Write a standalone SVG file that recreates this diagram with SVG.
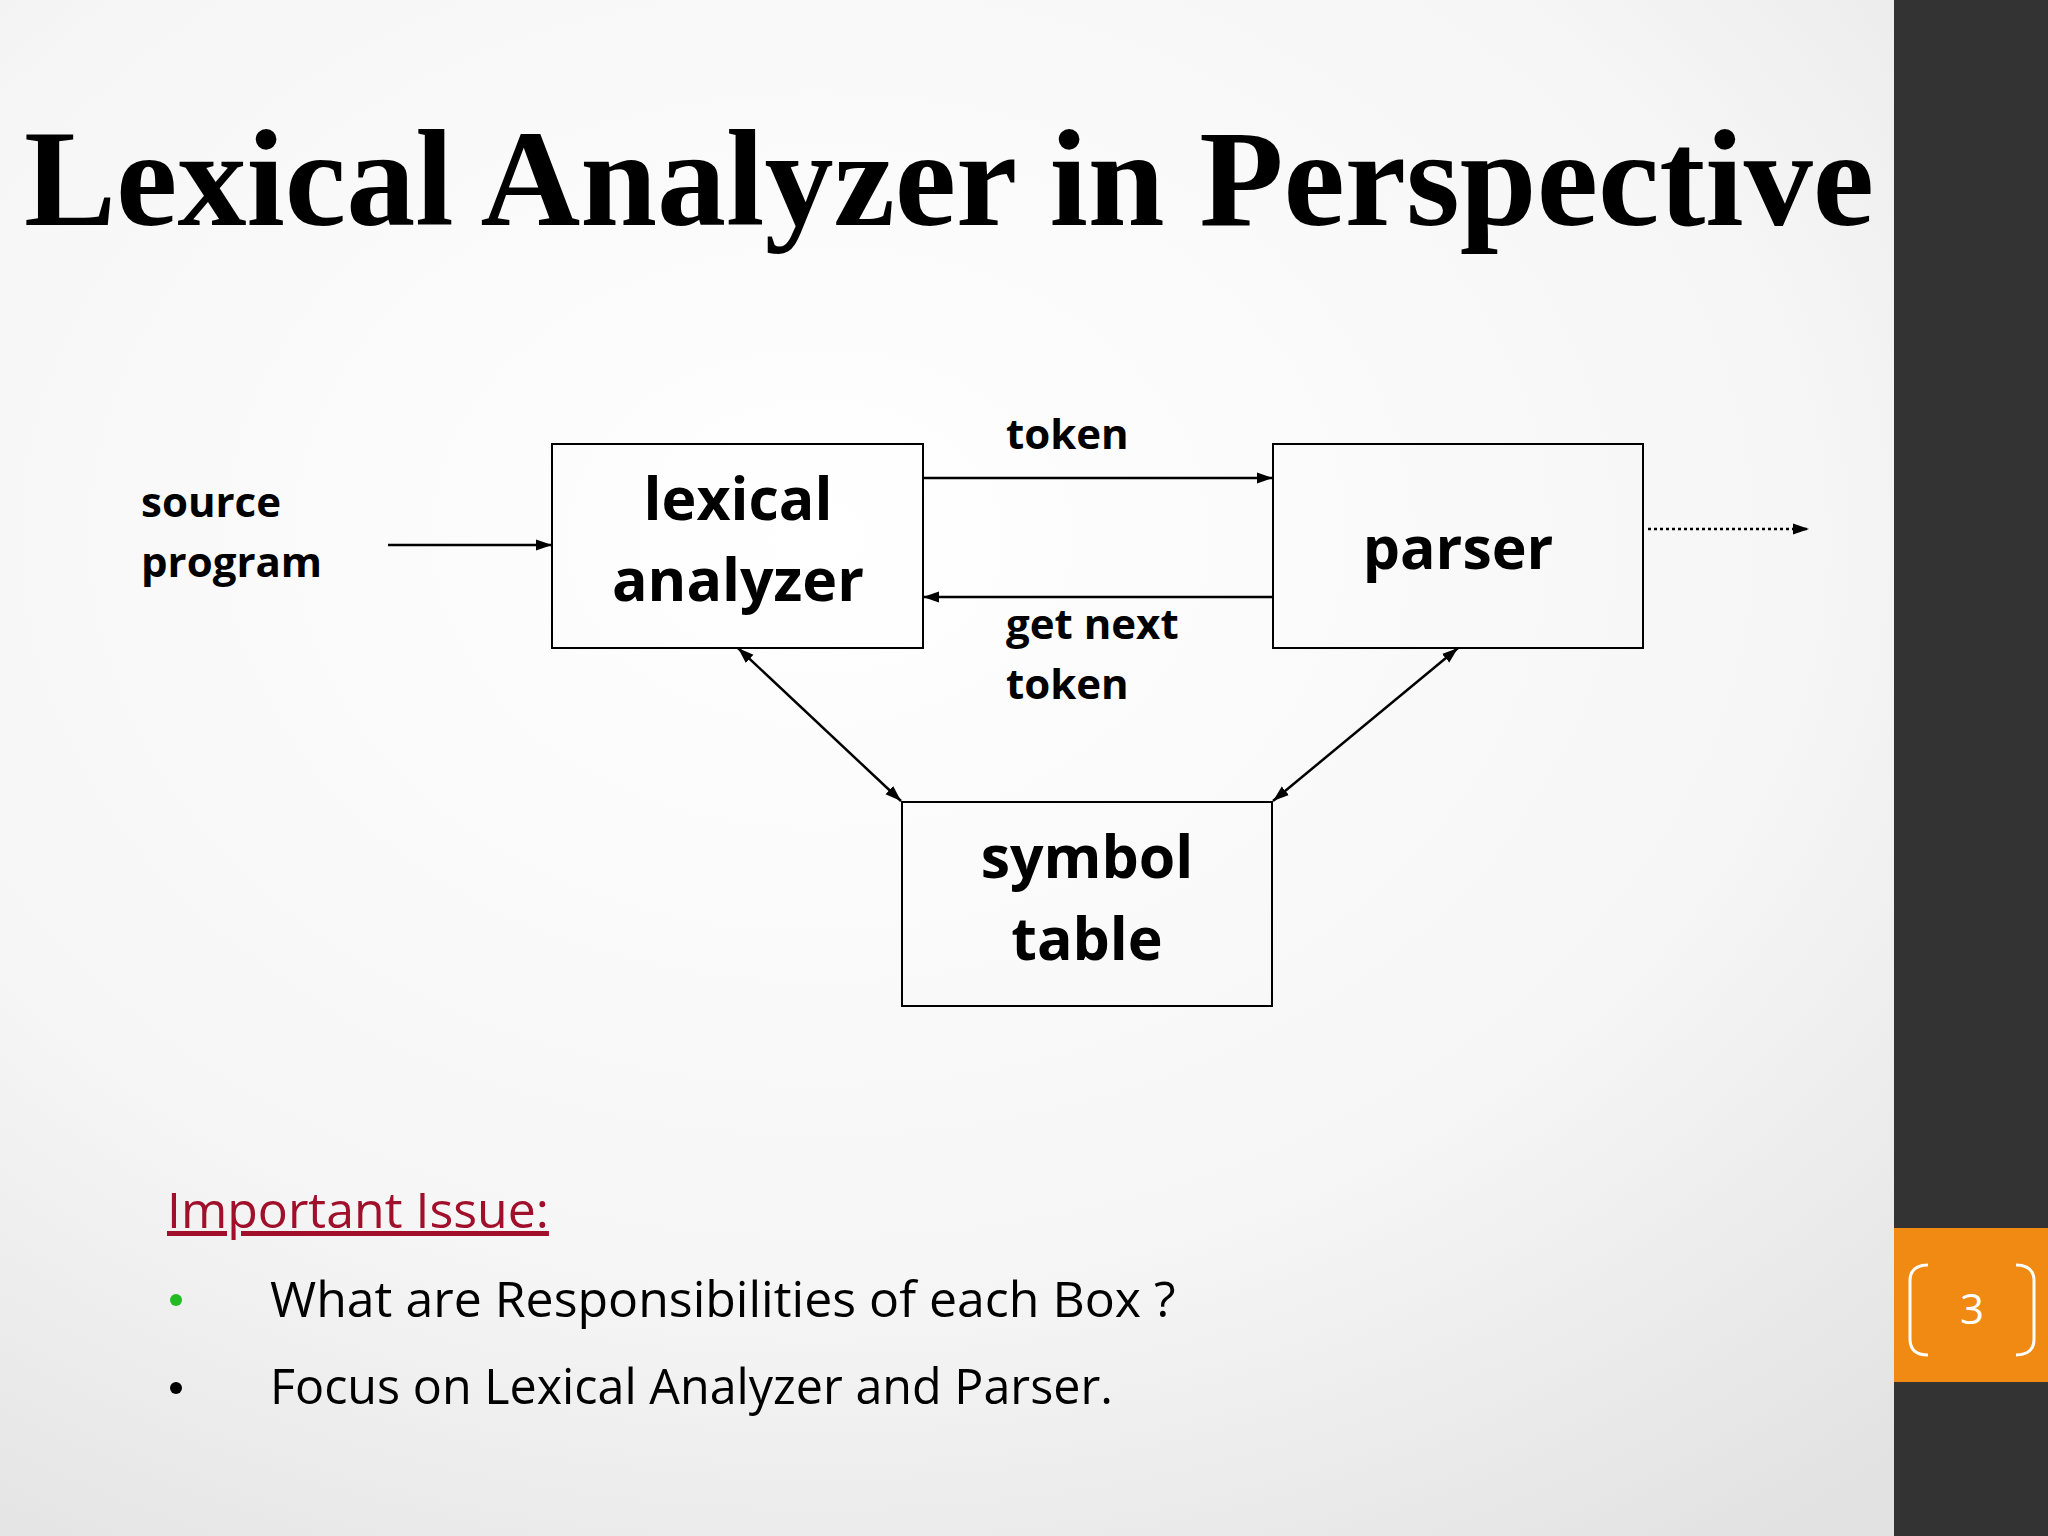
<svg xmlns="http://www.w3.org/2000/svg" width="2048" height="1536" viewBox="0 0 2048 1536">
<defs>
<radialGradient id="bg" cx="0.4" cy="0.35" r="0.8">
<stop offset="0" stop-color="#ffffff"/><stop offset="0.6" stop-color="#f6f6f6"/><stop offset="1" stop-color="#e2e2e2"/>
</radialGradient>
<marker id="a2" viewBox="0 0 10 10" refX="10" refY="5" markerWidth="16" markerHeight="16" orient="auto-start-reverse" markerUnits="userSpaceOnUse">
<path d="M0,1.5 L10,5 L0,8.5 z" fill="#000"/></marker>
</defs>
<style>
.box{fill:none;stroke:#000;stroke-width:2}
.lbl{font-family:"Open Sans","Liberation Sans",sans-serif;font-weight:bold;fill:#000}
.big{font-size:59px}
.sm{font-size:42px}
.ln{stroke:#000;stroke-width:2.5;fill:none}
.body{font-family:"Open Sans","Liberation Sans",sans-serif;font-size:50px;fill:#000}
</style>
<rect width="2048" height="1536" fill="url(#bg)"/>
<rect x="1894" y="0" width="154" height="1536" fill="#333333"/>
<rect x="1894" y="1228" width="154" height="154" fill="#f08a12"/>
<path d="M1928,1265 q-18,0 -18,16 v58 q0,16 18,16" fill="none" stroke="#fff" stroke-width="3"/>
<path d="M2016,1265 q18,0 18,16 v58 q0,16 -18,16" fill="none" stroke="#fff" stroke-width="3"/>
<text x="1972" y="1324" font-family="'Open Sans','Liberation Sans',sans-serif" font-size="42" fill="#fff" text-anchor="middle">3</text>
<text x="24" y="225" font-family="'Liberation Serif',serif" font-weight="bold" font-size="138" textLength="1850" lengthAdjust="spacingAndGlyphs">Lexical Analyzer in Perspective</text>
<g id="lexical"><rect class="box" x="552" y="444" width="371" height="204"/>
<text class="lbl big" x="738" y="520" text-anchor="middle">lexical</text>
<text class="lbl big" x="738" y="601" text-anchor="middle">analyzer</text></g>
<g id="parser"><rect class="box" x="1273" y="444" width="370" height="204"/>
<text class="lbl big" x="1458" y="569" text-anchor="middle">parser</text></g>
<g id="symtab"><rect class="box" x="902" y="802" width="370" height="204"/>
<text class="lbl big" x="1087" y="878" text-anchor="middle">symbol</text>
<text class="lbl big" x="1087" y="960" text-anchor="middle">table</text></g>
<g id="source"><text class="lbl sm" x="141" y="517">source</text><text class="lbl sm" x="141" y="577">program</text></g>
<g id="connectors">
<line class="ln" x1="388" y1="545" x2="552" y2="545" marker-end="url(#a2)"/>
<line class="ln" x1="923" y1="478" x2="1273" y2="478" marker-end="url(#a2)"/>
<line class="ln" x1="1273" y1="597" x2="923" y2="597" marker-end="url(#a2)"/>
<line class="ln" x1="1648" y1="529" x2="1809" y2="529" stroke-dasharray="3,3" stroke-width="2" marker-end="url(#a2)"/>
<line class="ln" x1="738" y1="648" x2="901" y2="801" marker-start="url(#a2)" marker-end="url(#a2)"/>
<line class="ln" x1="1458" y1="648" x2="1273" y2="801" marker-start="url(#a2)" marker-end="url(#a2)"/>
<text class="lbl sm" x="1006" y="449">token</text>
<text class="lbl sm" x="1006" y="639">get next</text>
<text class="lbl sm" x="1006" y="699">token</text>
</g>
<text class="body" x="167" y="1228" style="fill:#a0102a" text-decoration="underline">Important Issue:</text>
<circle cx="176" cy="1300" r="6" fill="#22bb22"/>
<text class="body" x="270" y="1317">What are Responsibilities of each Box ?</text>
<circle cx="176" cy="1388" r="6" fill="#000"/>
<text class="body" x="270" y="1404" textLength="843" lengthAdjust="spacingAndGlyphs">Focus on Lexical Analyzer and Parser.</text>
</svg>
